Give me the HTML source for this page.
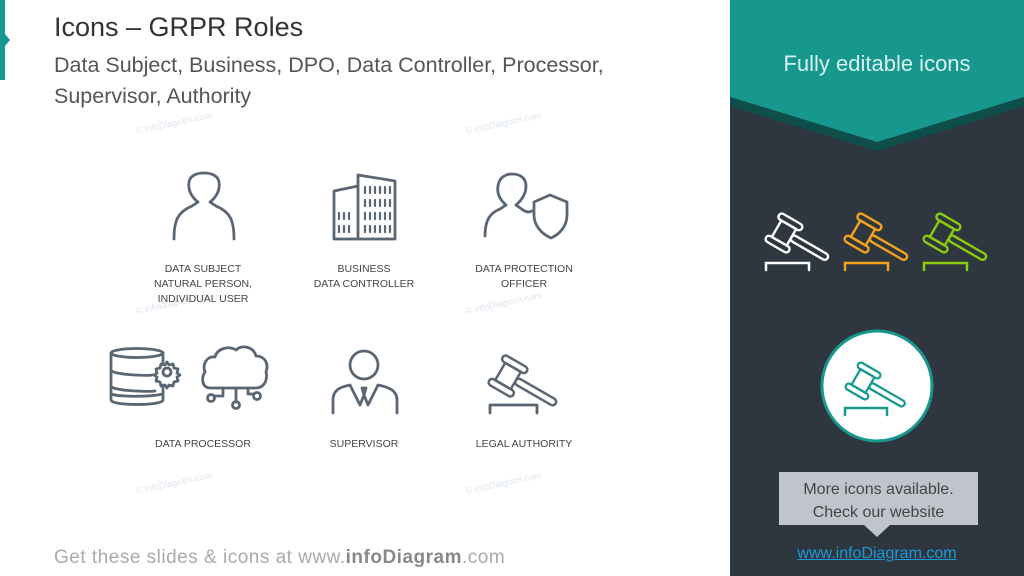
<!DOCTYPE html>
<html><head><meta charset="utf-8"><style>
body{margin:0;width:1024px;height:576px;position:relative;overflow:hidden;background:#fff;font-family:"Liberation Sans",sans-serif}
.t{position:absolute;white-space:nowrap}
.lab{position:absolute;font-size:10.5px;color:#444;text-align:center;line-height:15px;width:160px}
.wm{position:absolute;font-size:9px;color:#dde4ee;transform:rotate(-12deg)}
</style></head><body>
<div style="position:absolute;left:0;top:0;width:5px;height:80px;background:#17988f"></div>
<div style="position:absolute;left:5px;top:34px;width:0;height:0;border-top:6px solid transparent;border-bottom:6px solid transparent;border-left:5px solid #17988f"></div>
<div class="t" style="left:54px;top:12px;font-size:27px;color:#333">Icons – GRPR Roles</div>
<div class="t" style="left:54px;top:50px;font-size:21.5px;color:#555;line-height:31px">Data Subject, Business, DPO, Data Controller, Processor,<br>Supervisor, Authority</div>
<div class="wm" style="left:135px;top:118px">© infoDiagram.com</div>
<div class="wm" style="left:465px;top:118px">© infoDiagram.com</div>
<div class="wm" style="left:135px;top:298px">© infoDiagram.com</div>
<div class="wm" style="left:465px;top:298px">© infoDiagram.com</div>
<div class="wm" style="left:135px;top:478px">© infoDiagram.com</div>
<div class="wm" style="left:465px;top:478px">© infoDiagram.com</div>

<svg style="position:absolute;left:0;top:0" width="730" height="576" fill="none" stroke="#5a6673" stroke-width="2.8" stroke-linecap="round" stroke-linejoin="round">
<path d="M174 239 C174 220 178 212 192 206 L198 202 C190 196 188 188 189 182 C190 176 196 173 204 173 C212 173 218 176 219 182 C220 188 218 196 210 202 L216 206 C230 212 234 220 234 239"/>
<path d="M358 239 L358 175 L395 181 L395 239 Z M358 186 L334 191 L334 239 L395 239"/>
<g stroke-width="2.2"><path d="M365 187v6M370 187v6M375 187v6M380 187v6M385 187v6M390 187v6M365 200v6M370 200v6M375 200v6M380 200v6M385 200v6M390 200v6M365 213v6M370 213v6M375 213v6M380 213v6M385 213v6M390 213v6M365 226v6M370 226v6M375 226v6M380 226v6M385 226v6M390 226v6M339 213v6M344 213v6M349 213v6M339 226v6M344 226v6M349 226v6"/></g>
<path d="M485 236 C485 220 490 213 500 209 L506 205 C499 199 497 192 498 186 C499 178 505 174 512 174 C520 174 526 178 526 186 C526 192 523 199 516 205 L523 210 C527 213 530 212 532 211"/>
<path d="M534 202 L550 195 L567 202 L567 215 C567 226 560 234 551 238 C542 234 534 226 534 215 Z"/>
<ellipse cx="137" cy="353" rx="26" ry="4.5"/>
<path d="M111 353 V400 C111 406 163 406 163 400 V385 M111 370 C111 375 150 376 152 375 M111 386 C111 391 150 392 155 391 M163 353 V362"/>
<path d="M111 394 C120 397 150 397 163 394"/>
<circle cx="167" cy="372" r="4"/>
<path d="M167 362 l2 3 4-1 1 4 4 1 -1 4 3 2 -3 2 1 4 -4 1 -1 4 -4 -1 -2 3 -2 -3 -4 1 -1 -4 -4 -1 1 -4 -3 -2 3 -2 -1 -4 4 -1 1 -4 4 1 z"/>
<path d="M210 388 C202 388 201 378 205 372 C202 364 207 356 215 357 C217 349 228 345 236 350 C242 344 254 347 256 356 C265 356 269 364 266 372 C268 380 264 388 256 388 Z"/>
<path d="M236 388 V402 M223 388 V396 H214 M248 388 V394 H254"/>
<circle cx="211" cy="398" r="3.5"/><circle cx="236" cy="405" r="3.5"/><circle cx="257" cy="396" r="3.5"/>
<circle cx="364" cy="365" r="14"/>
<path d="M333 413 V400 C333 390 340 387 350 385 L360 405 L364 395 L368 405 L378 385 C388 387 397 390 397 400 V413 M362 388 H366 L364 395 Z"/>
<g transform="translate(508 376) rotate(30)" stroke-width="2.5"><rect x="-9" y="-10" width="18" height="20" rx="1"/><rect x="-14" y="-17" width="28" height="7" rx="3.5"/><rect x="-14" y="10" width="28" height="7" rx="3.5"/><rect x="9" y="-3.5" width="46" height="7" rx="3.5"/></g>
<path d="M490 413 V405 H537 V413"/>
</svg>

<div class="lab" style="left:123px;top:262px">DATA SUBJECT<br>NATURAL PERSON,<br>INDIVIDUAL USER</div>
<div class="lab" style="left:284px;top:262px">BUSINESS<br>DATA CONTROLLER</div>
<div class="lab" style="left:444px;top:262px">DATA PROTECTION<br>OFFICER</div>
<div class="lab" style="left:123px;top:437px">DATA PROCESSOR</div>
<div class="lab" style="left:284px;top:437px">SUPERVISOR</div>
<div class="lab" style="left:444px;top:437px">LEGAL AUTHORITY</div>

<div class="t" style="left:54px;top:547px;font-size:19px;letter-spacing:0.5px;color:#aaa">Get these slides &amp; icons at www.<b style="color:#888">infoDiagram</b>.com</div>

<div style="position:absolute;left:730px;top:0;width:294px;height:576px;background:#2e3740"></div>
<svg style="position:absolute;left:730px;top:0" width="294" height="576">
<polygon points="0,0 294,0 294,97 147,142 0,97" fill="#17988f"/>
<polygon points="0,97 147,142 294,97 294,106 147,151 0,106" fill="#0e4f4b"/>
<g fill="none" stroke-width="2.5" stroke-linecap="round">
<g stroke="#fff"><g transform="translate(54 233) rotate(30) scale(0.95)"><rect x="-9" y="-10" width="18" height="20" rx="1"/><rect x="-14" y="-17" width="28" height="7" rx="3.5"/><rect x="-14" y="10" width="28" height="7" rx="3.5"/><rect x="9" y="-3.5" width="44" height="7" rx="3.5"/></g><path d="M36 270 V263 H79 V270"/></g>
<g stroke="#f5a31a"><g transform="translate(133 233) rotate(30) scale(0.95)"><rect x="-9" y="-10" width="18" height="20" rx="1"/><rect x="-14" y="-17" width="28" height="7" rx="3.5"/><rect x="-14" y="10" width="28" height="7" rx="3.5"/><rect x="9" y="-3.5" width="44" height="7" rx="3.5"/></g><path d="M115 270 V263 H158 V270"/></g>
<g stroke="#8ccc0a"><g transform="translate(212 233) rotate(30) scale(0.95)"><rect x="-9" y="-10" width="18" height="20" rx="1"/><rect x="-14" y="-17" width="28" height="7" rx="3.5"/><rect x="-14" y="10" width="28" height="7" rx="3.5"/><rect x="9" y="-3.5" width="44" height="7" rx="3.5"/></g><path d="M194 270 V263 H237 V270"/></g>
</g>
<circle cx="147" cy="386" r="55" fill="#fff" stroke="#17988f" stroke-width="3"/>
<g fill="none" stroke="#17988f" stroke-width="2.5" stroke-linecap="round"><g transform="translate(133 381) rotate(30) scale(0.9)"><rect x="-9" y="-10" width="18" height="20" rx="1"/><rect x="-14" y="-17" width="28" height="7" rx="3.5"/><rect x="-14" y="10" width="28" height="7" rx="3.5"/><rect x="9" y="-3.5" width="44" height="7" rx="3.5"/></g><path d="M115 415 V408 H157 V415"/></g>
<rect x="49" y="472" width="199" height="53" fill="#c0c4cc"/>
<polygon points="134,525 160,525 147,537" fill="#c0c4cc"/>
</svg>
<div class="t" style="left:730px;width:294px;text-align:center;top:51px;font-size:22px;color:#d8f0ee">Fully editable icons</div>
<div class="t" style="left:779px;width:199px;text-align:center;top:478px;font-size:16px;color:#444;line-height:23px">More icons available.<br>Check our website</div>
<div class="t" style="left:730px;width:294px;text-align:center;top:545px;font-size:16px;color:#1a9ad6;text-decoration:underline">www.infoDiagram.com</div>
</body></html>
